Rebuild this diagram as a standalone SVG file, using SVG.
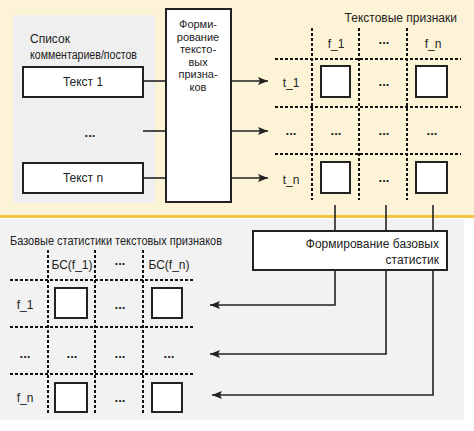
<svg xmlns="http://www.w3.org/2000/svg" width="474" height="431" viewBox="0 0 474 431">
<style>
text{font-family:"Liberation Sans",Arial,sans-serif;font-size:12px;fill:#222}
.c{text-anchor:middle}
.r{text-anchor:end}
.v{font-size:11px;text-anchor:middle}
.box{fill:#fff;stroke:#222;stroke-width:2}
.sq{fill:#fff;stroke:#222;stroke-width:2}
.dash{stroke:#111;stroke-width:2;stroke-dasharray:3,2;fill:none}
.ln{stroke:#222;stroke-width:1.6;fill:none}
.dots{font-size:13px;font-weight:bold;text-anchor:middle}
</style>
<defs>
<marker id="ah" markerWidth="10" markerHeight="8" refX="10" refY="4" orient="auto" markerUnits="userSpaceOnUse">
<path d="M0,0 L10,4 L0,8 L2,4 Z" fill="#222"/>
</marker>
</defs>
<rect x="0" y="0" width="474" height="431" fill="#fff"/>
<rect x="0" y="0" width="474" height="216" fill="#fdf3d6"/>
<rect x="0" y="215" width="474" height="3" fill="#f5c548"/>
<rect x="0" y="219" width="464" height="201" fill="#f2f2f2"/>
<rect x="13" y="15" width="142" height="188" fill="#efefef"/>

<g id="list-label">
<text x="30" y="43">Список</text>
<text x="30" y="59" textLength="107" lengthAdjust="spacingAndGlyphs">комментариев/постов</text>
</g>
<g id="text1"><rect class="box" x="23" y="67" width="120" height="30"/><text class="c" x="83" y="86">Текст 1</text></g>
<g id="textdots"><text class="dots" x="90" y="137">...</text></g>
<g id="textn"><rect class="box" x="23" y="163" width="120" height="30"/><text class="c" x="83" y="182">Текст n</text></g>

<g id="former">
<rect class="box" x="166" y="9" width="65" height="193"/>
<text class="v" x="198" y="28">Форми-</text>
<text class="v" x="198" y="40.5">рование</text>
<text class="v" x="198" y="53">тексто-</text>
<text class="v" x="198" y="65.5">вых</text>
<text class="v" x="198" y="78">призна-</text>
<text class="v" x="198" y="90.5">ков</text>
</g>

<g id="features-matrix">
<text class="r" x="457" y="22">Текстовые признаки</text>
<line class="dash" x1="312" y1="28" x2="312" y2="200"/>
<line class="dash" x1="359" y1="28" x2="359" y2="200"/>
<line class="dash" x1="407" y1="28" x2="407" y2="200"/>
<line class="dash" x1="275" y1="59" x2="461" y2="59"/>
<line class="dash" x1="275" y1="107" x2="461" y2="107"/>
<line class="dash" x1="275" y1="154" x2="461" y2="154"/>
<text class="c" x="336" y="48">f_1</text>
<text class="dots" x="384" y="44">...</text>
<text class="c" x="433" y="48">f_n</text>
<text class="c" x="291" y="87">t_1</text>
<text class="dots" x="291" y="135">...</text>
<text class="c" x="291" y="184">t_n</text>
<rect class="sq" x="321" y="66" width="29" height="31"/>
<rect class="sq" x="416" y="66" width="31" height="31"/>
<rect class="sq" x="321" y="162" width="29" height="31"/>
<rect class="sq" x="416" y="162" width="31" height="31"/>
<text class="dots" x="384" y="86">...</text>
<text class="dots" x="336" y="135">...</text>
<text class="dots" x="384" y="135">...</text>
<text class="dots" x="432" y="135">...</text>
<text class="dots" x="384" y="182">...</text>
</g>

<g id="stats-former">
<rect class="box" x="253" y="231" width="194" height="39"/>
<text class="r" x="439" y="248">Формирование базовых</text>
<text class="r" x="439" y="264">статистик</text>
</g>

<g id="stats-matrix">
<text x="10" y="245" textLength="212" lengthAdjust="spacingAndGlyphs">Базовые статистики текстовых признаков</text>
<line class="dash" x1="48" y1="250" x2="48" y2="414"/>
<line class="dash" x1="95" y1="250" x2="95" y2="414"/>
<line class="dash" x1="143" y1="250" x2="143" y2="414"/>
<line class="dash" x1="10" y1="280" x2="195" y2="280"/>
<line class="dash" x1="10" y1="327" x2="195" y2="327"/>
<line class="dash" x1="10" y1="374" x2="195" y2="374"/>
<text class="c" x="72" y="269">БС(f_1)</text>
<text class="dots" x="120" y="265">...</text>
<text class="c" x="169" y="269">БС(f_n)</text>
<text class="c" x="25" y="309">f_1</text>
<text class="dots" x="25" y="358">...</text>
<text class="c" x="25" y="402">f_n</text>
<rect class="sq" x="55" y="288" width="32" height="30"/>
<rect class="sq" x="152" y="288" width="30" height="30"/>
<rect class="sq" x="55" y="383" width="32" height="29"/>
<rect class="sq" x="152" y="383" width="30" height="29"/>
<text class="dots" x="120" y="309">...</text>
<text class="dots" x="72" y="358">...</text>
<text class="dots" x="120" y="358">...</text>
<text class="dots" x="169" y="358">...</text>
<text class="dots" x="120" y="402">...</text>
</g>

<g id="connectors">
<line class="ln" x1="143" y1="81" x2="166" y2="81"/>
<line class="ln" x1="143" y1="131" x2="166" y2="131"/>
<line class="ln" x1="143" y1="178" x2="166" y2="178"/>
<line class="ln" x1="231" y1="81" x2="268" y2="81" marker-end="url(#ah)"/>
<line class="ln" x1="231" y1="131" x2="268" y2="131" marker-end="url(#ah)"/>
<line class="ln" x1="231" y1="178" x2="268" y2="178" marker-end="url(#ah)"/>
<line class="ln" x1="335" y1="205" x2="335" y2="231"/>
<line class="ln" x1="386" y1="205" x2="386" y2="231"/>
<line class="ln" x1="433" y1="205" x2="433" y2="231"/>
<polyline class="ln" points="335,270 335,305 210,305" marker-end="url(#ah)"/>
<polyline class="ln" points="386,270 386,354 210,354" marker-end="url(#ah)"/>
<polyline class="ln" points="433,270 433,395 212,395" marker-end="url(#ah)"/>
</g>
</svg>
